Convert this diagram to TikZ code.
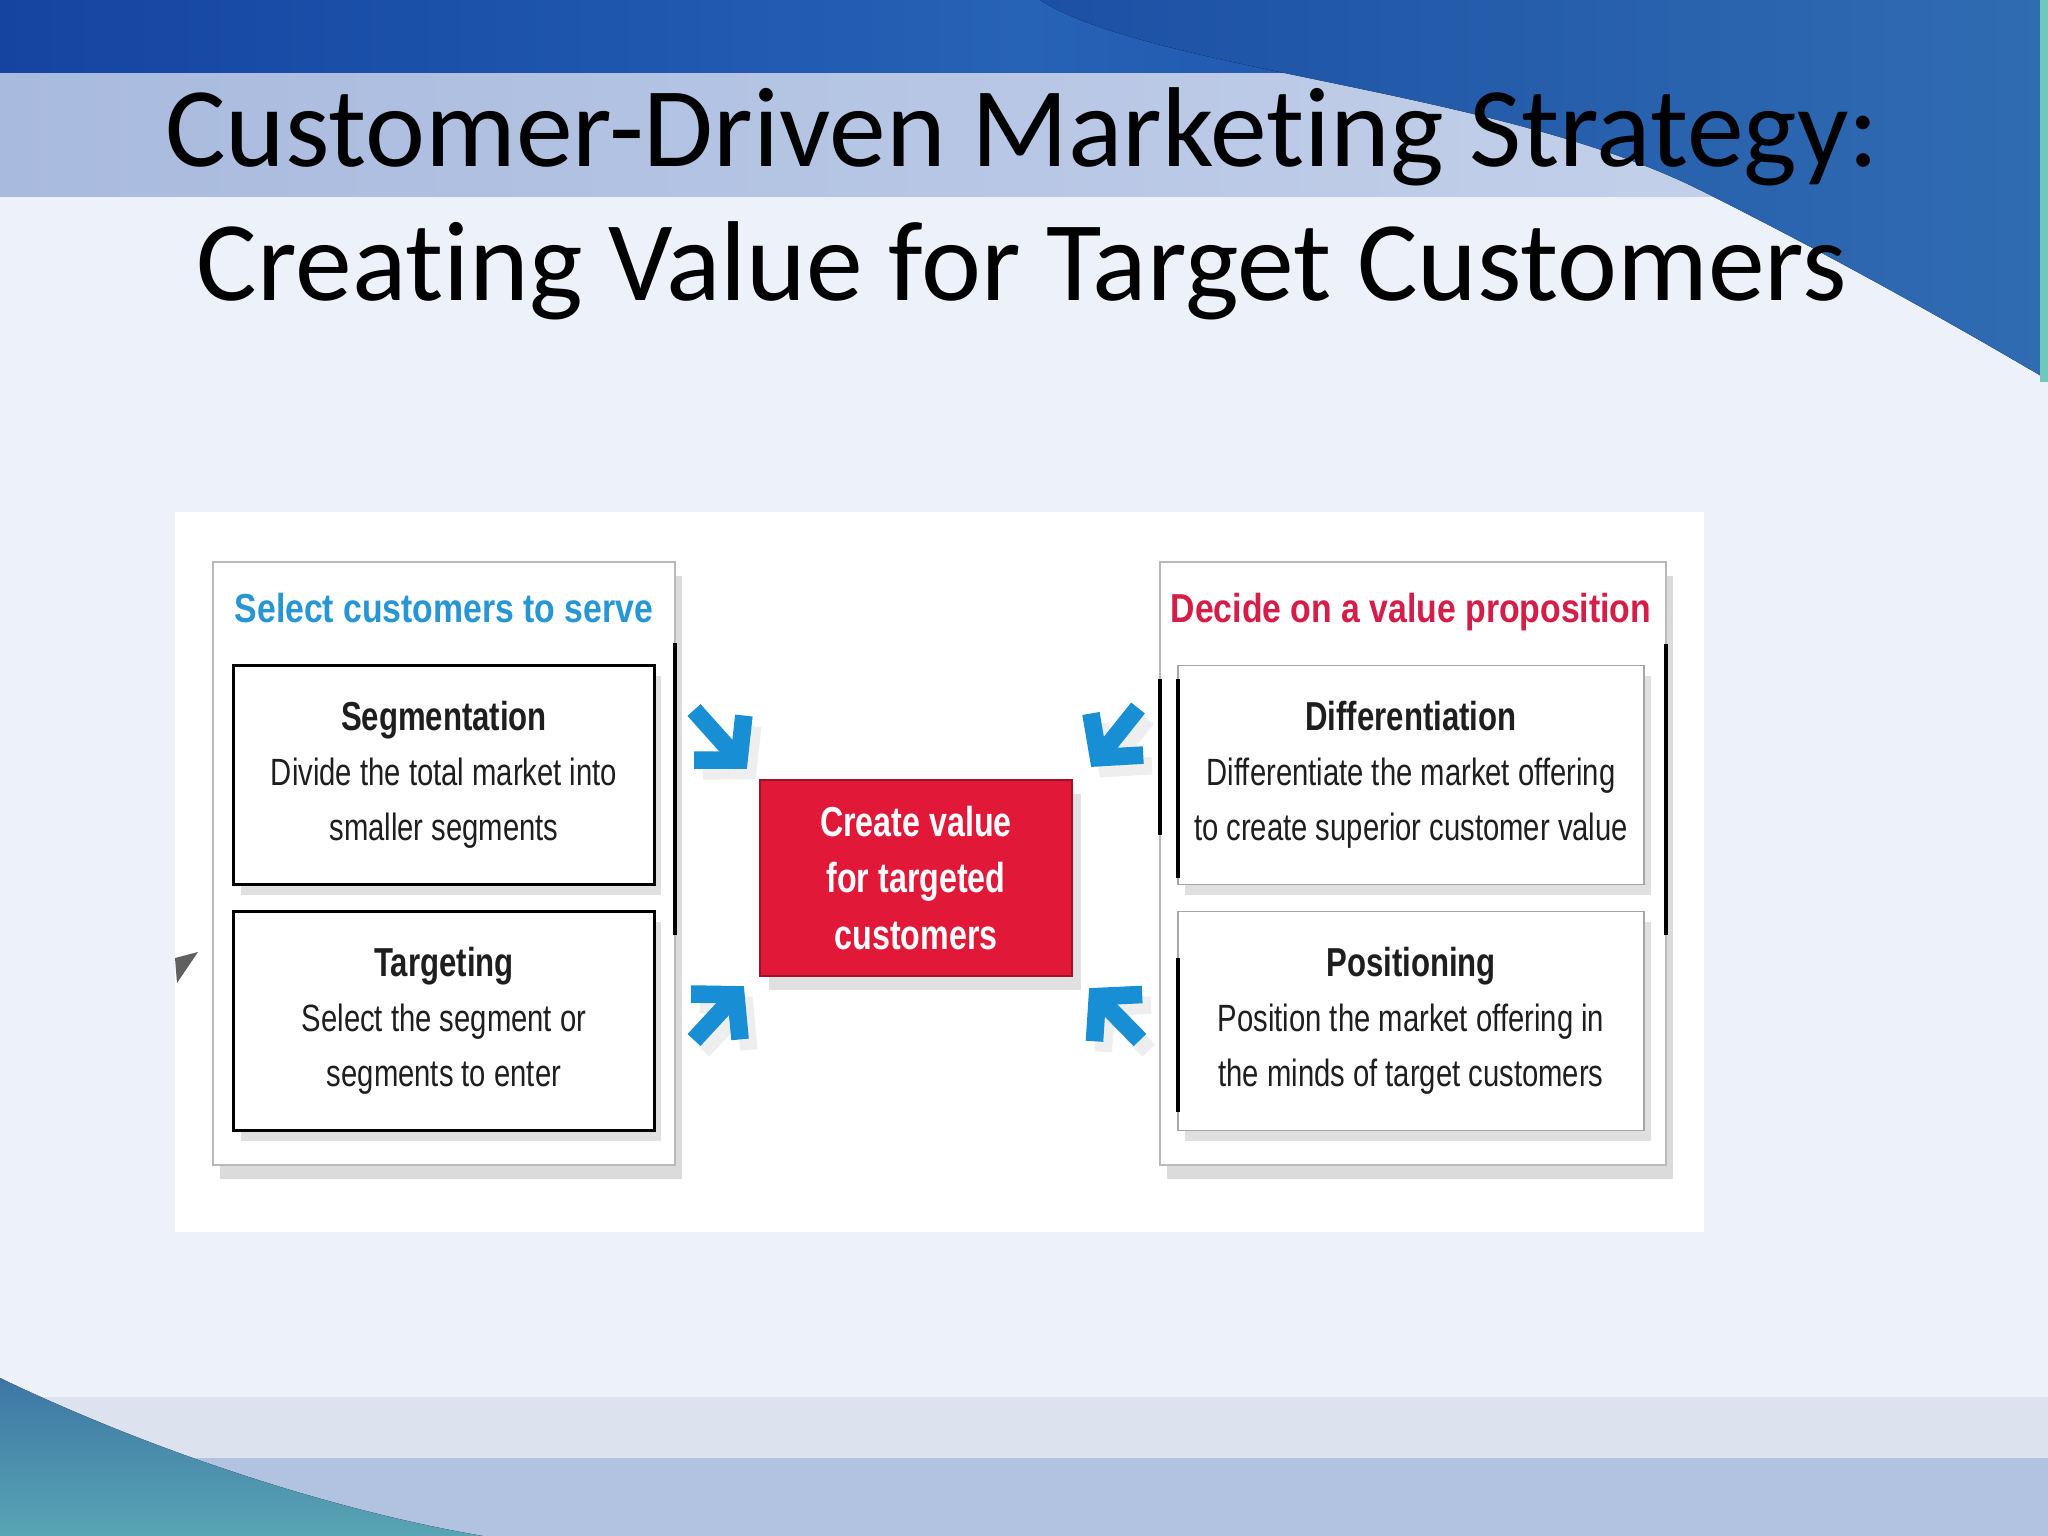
\documentclass[tikz,border=0pt]{standalone}
\usepackage{fontspec}
\setmainfont[Ligatures={NoCommon,NoContextual}, Contextuals=NoAlternate]{Carlito}
\newfontfamily\condfont[FakeStretch=0.77]{Liberation Sans}
\newfontfamily\headfont[FakeStretch=0.835]{Liberation Sans}
\usetikzlibrary{arrows.meta,shadows}
\definecolor{slidebg}{RGB}{237,241,249}
\definecolor{topblue}{RGB}{20,68,160}
\definecolor{topblueb}{RGB}{38,98,182}
\definecolor{swooshl}{RGB}{28,80,165}
\definecolor{swooshr}{RGB}{48,108,178}
\definecolor{bandblue}{RGB}{168,186,222}
\definecolor{bandlight}{RGB}{200,212,236}
\definecolor{edgeteal}{RGB}{110,200,190}
\definecolor{bottomgray}{RGB}{220,227,239}
\definecolor{bottomblue}{RGB}{177,195,225}
\definecolor{cornertop}{RGB}{62,118,165}
\definecolor{cornerbot}{RGB}{88,165,180}
\definecolor{headblue}{RGB}{38,150,212}
\definecolor{headred}{RGB}{212,30,72}
\definecolor{boxred}{RGB}{226,24,56}
\definecolor{arrowblue}{RGB}{24,142,212}
\definecolor{bodygray}{RGB}{30,30,30}
\tikzset{
  titletext/.style={font=\fontsize{32.3}{38}\selectfont, text=black, inner sep=0pt},
  outerbox/.style={draw=gray!55, line width=.6pt, fill=white, minimum height=6.03cm,
    drop shadow={shadow xshift=2pt, shadow yshift=-4pt, fill=black!35, opacity=.4}},
  segbox/.style={draw=black, line width=.9pt, fill=white, minimum width=4.2cm, minimum height=2.19cm,
    align=center, text=bodygray, font=\condfont\fontsize{10.8}{15.7}\selectfont,
    drop shadow={shadow xshift=2pt, shadow yshift=-3pt, fill=black!30, opacity=.4}},
  propbox/.style={segbox, draw=gray!70, line width=.5pt, minimum width=4.66cm},
  headtext/.style={font=\headfont\bfseries\fontsize{11.5}{14}\selectfont, anchor=base, inner sep=0pt},
  createbox/.style={draw=boxred!70!black, line width=.6pt, fill=boxred, minimum width=3.12cm, minimum height=1.96cm,
    align=center, text=white, font=\condfont\bfseries\fontsize{11.9}{16.1}\selectfont,
    drop shadow={shadow xshift=2.5pt, shadow yshift=-4pt, fill=black!30, opacity=.4}},
  bluearrow/.style={draw=arrowblue, line width=5pt, -{Straight Barb[length=8.5pt, width=19pt]}},
  arrowshadow/.style={draw=black!25, opacity=.25, line width=5pt, -{Straight Barb[length=8.5pt, width=19pt]}},
  edgeline/.style={draw=black, line width=.9pt}
}
\begin{document}
\begin{tikzpicture}[x=0.01cm, y=-0.01cm]
\useasboundingbox (0,0) rectangle (2048,1536);
\fill[slidebg] (0,0) rectangle (2048,1536);
\fill[left color=bandblue, right color=bandlight] (0,72) rectangle (2048,196);
\fill[left color=topblue, right color=topblue, middle color=topblueb] (0,0) rectangle (2048,72);
\fill[left color=swooshl, right color=swooshr] (1040,0) .. controls (1150,70) and (1500,90) .. (1700,190)
      .. controls (1850,265) and (1980,340) .. (2048,380) -- (2048,0) -- cycle;
\fill[edgeteal] (2040,0) rectangle (2048,382);
\fill[bottomgray] (0,1397) rectangle (2048,1458);
\fill[bottomblue] (0,1458) rectangle (2048,1536);
\fill[top color=cornertop, bottom color=cornerbot] (0,1378) .. controls (150,1450) and (330,1510) .. (483,1536) -- (0,1536) -- cycle;

\node[titletext, anchor=base] (title) at (1022,166) {Customer-Driven Marketing Strategy:};
\node[titletext, anchor=base] (subtitle) at (1022,300) {Creating Value for Target Customers};

\fill[white] (175,512) rectangle (1704,1232);
\fill[gray!75!black] (175,958) -- (198,952) -- (177,983) -- cycle;

\node[outerbox, minimum width=4.62cm] (select) at (444,863.5) {};
\node[outerbox, minimum width=5.06cm] (decide) at (1413,863.5) {};
\node[headtext, text=headblue] (selhead) at (444,622) {Select customers to serve};
\node[headtext, text=headred] (dechead) at (1411,622) {Decide on a value proposition};

\node[segbox] (segment) at (444,775) {{\bfseries\fontsize{11.5}{15.7}\selectfont Segmentation}\\Divide the total market into\\smaller segments};
\node[segbox] (target) at (444,1021) {{\bfseries\fontsize{11.5}{15.7}\selectfont Targeting}\\Select the segment or\\segments to enter};
\node[propbox] (differ) at (1411,775) {{\bfseries\fontsize{11.5}{15.7}\selectfont Differentiation}\\Differentiate the market offering\\to create superior customer value};
\node[propbox] (position) at (1411,1021) {{\bfseries\fontsize{11.5}{15.7}\selectfont Positioning}\\Position the market offering in\\the minds of target customers};

\draw[edgeline] (675,643) -- (675,935) (1160,679) -- (1160,835) (1178,679) -- (1178,878)
      (1178,958) -- (1178,1112) (1666,644) -- (1666,935);

\node[createbox] (create) at (916,878) {Create value\\for targeted\\customers};

\coordinate (tl) at (694,710);
\coordinate (tr) at (1138,708);
\coordinate (bl) at (694,1040);
\coordinate (br) at (1140,1040);
\begin{scope}[transform canvas={shift={(2.5pt,-3pt)}}]
\draw[arrowshadow] (tl) -- ([shift={(-12,-10)}]create.north west);
\draw[arrowshadow] (tr) -- ([shift={(18,-12)}]create.north east);
\draw[arrowshadow] (bl) -- ([shift={(-15,9)}]create.south west);
\draw[arrowshadow] (br) -- ([shift={(16,11)}]create.south east);
\end{scope}
\draw[bluearrow] (tl) -- ([shift={(-12,-10)}]create.north west);
\draw[bluearrow] (tr) -- ([shift={(18,-12)}]create.north east);
\draw[bluearrow] (bl) -- ([shift={(-15,9)}]create.south west);
\draw[bluearrow] (br) -- ([shift={(16,11)}]create.south east);
\end{tikzpicture}
\end{document}
